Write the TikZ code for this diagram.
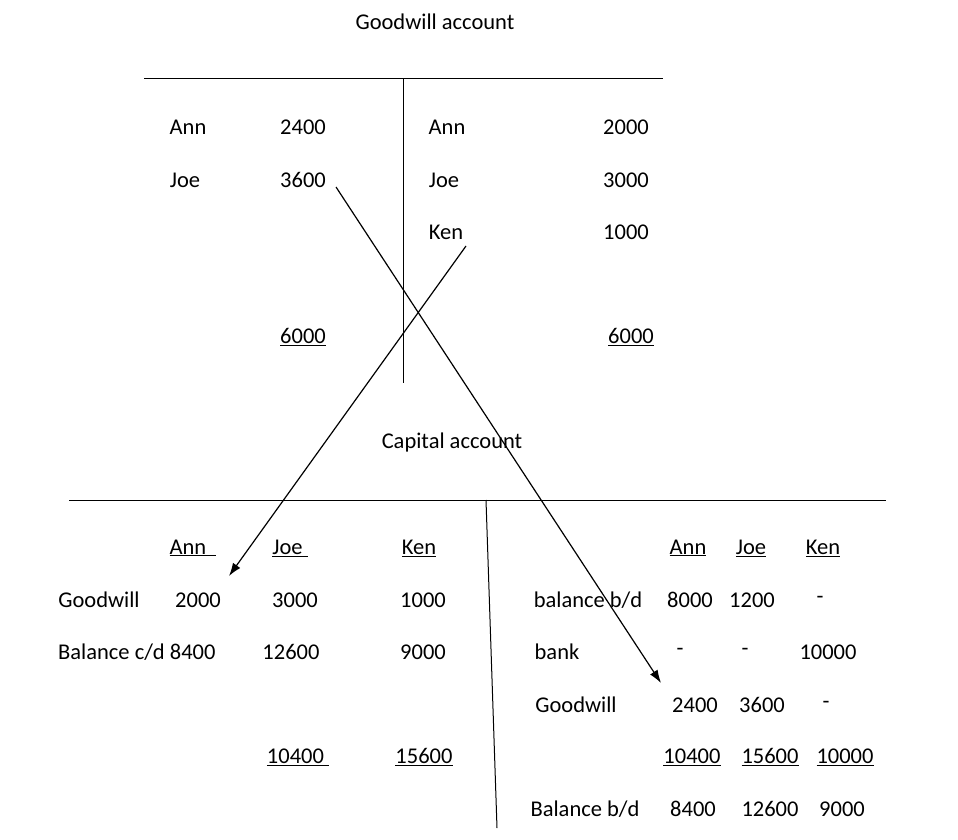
\documentclass[tikz,border=0pt]{standalone}
\usepackage{fontspec}
\setmainfont{Carlito}
\usetikzlibrary{arrows.meta}
\begin{document}
\begin{tikzpicture}[x=1pt,y=-1pt,
  t/.style={inner sep=0pt,font=\fontsize{22.5}{26}\selectfont},
  ln/.style={line width=1pt},
  ar/.style={line width=1.2pt,-{Latex[length=13pt,width=9pt]}}]
\useasboundingbox (0,0) rectangle (958,840);
\node[t] (g) at (435,22) {Goodwill account};
\coordinate (h1a) at (144,79); \coordinate (h1b) at (663,79);
\draw[ln] (h1a) -- (h1b);
\coordinate (v1a) at (403,79); \coordinate (v1b) at (403,383);
\draw[ln] (v1a) -- (v1b);
\node[t] (a1) at (188,127) {Ann};
\node[t] (a2) at (303,127) {2400};
\node[t] (a3) at (447,127) {Ann};
\node[t] (a4) at (626,127) {2000};
\node[t] (j1) at (185,180) {Joe};
\node[t] (j2) at (303,180) {3600};
\node[t] (j3) at (444,180) {Joe};
\node[t] (j4) at (626,180) {3000};
\node[t] (k3) at (446,232) {Ken};
\node[t] (k4) at (626,232) {1000};
\node[t] (s1) at (303,337) {\underline{6000}};
\node[t] (s2) at (631,337) {\underline{6000}};
\node[t] (c) at (452,442) {Capital account};
\coordinate (h2a) at (69,500); \coordinate (h2b) at (886,500);
\draw[ln] (h2a) -- (h2b);
\coordinate (v2a) at (486,500); \coordinate (v2b) at (497,828);
\draw[ln] (v2a) -- (v2b);
% headers
\node[t] (hA) at (193,548) {\underline{Ann\ \ }};
\node[t] (hJ) at (290,548) {\underline{Joe\ }};
\node[t] (hK) at (419,548) {\underline{Ken}};
\node[t] (rA) at (688,548) {\underline{Ann}};
\node[t] (rJ) at (751,548) {\underline{Joe}};
\node[t] (rK) at (823,548) {\underline{Ken}};
% row 1
\node[t] (l1) at (99,600) {Goodwill};
\node[t] (l1a) at (198,600) {2000};
\node[t] (l1b) at (295,600) {3000};
\node[t] (l1c) at (423,600) {1000};
\node[t] (r1) at (588,600) {balance b/d};
\node[t] (r1a) at (690,600) {8000};
\node[t] (r1b) at (752,600) {1200};
\node[t] (r1c) at (820,600) {-};
% row 2
\node[t,anchor=west] (l2) at (58,652) {Balance c/d 8400};
\node[t] (l2b) at (291,652) {12600};
\node[t] (l2c) at (423,652) {9000};
\node[t] (r2) at (557,652) {bank};
\node[t] (r2a) at (680,652) {-};
\node[t] (r2b) at (745,652) {-};
\node[t] (r2c) at (828,652) {10000};
% row 3
\node[t] (r3) at (576,705) {Goodwill};
\node[t] (r3a) at (695,705) {2400};
\node[t] (r3b) at (762,705) {3600};
\node[t] (r3c) at (826,705) {-};
% totals
\node[t] (tl1) at (298,757) {\underline{10400\ }};
\node[t] (tl2) at (424,757) {\underline{15600}};
\node[t] (tr1) at (692,757) {\underline{10400}};
\node[t] (tr2) at (770,757) {\underline{15600}};
\node[t] (tr3) at (845,757) {\underline{10000}};
% balance b/d
\node[t] (b) at (585,809) {Balance b/d};
\node[t] (ba) at (693,809) {8400};
\node[t] (bb) at (770,809) {12600};
\node[t] (bc) at (842,809) {9000};
% arrows
\coordinate (p1) at (336,187); \coordinate (p2) at (661,683);
\coordinate (q1) at (466,246); \coordinate (q2) at (229,576);
\draw[ar] (p1) -- (p2);
\draw[ar] (q1) -- (q2);
\end{tikzpicture}
\end{document}
